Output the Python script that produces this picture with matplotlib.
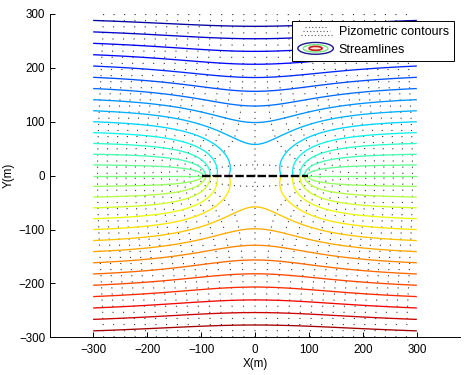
import numpy as np
import matplotlib
matplotlib.use("Agg")
import matplotlib.pyplot as plt
from matplotlib.legend_handler import HandlerBase
from matplotlib.patches import Ellipse
from matplotlib.lines import Line2D

# ---------------- data ----------------
SEMI_A = 100.0               # conductive inclusion semi-axis along flow (m)
SEMI_B = 20.0                # conductive inclusion semi-axis across flow (m)
DOMAIN = 300.0               # half-width of the modelled square (m)
N_LEVELS = 29                # number of contour levels (each family)
FRACTURE_X = [-98, 98]
FRACTURE_Y = [0, 0]
X_TICKS = [-300, -200, -100, 0, 100, 200, 300]
Y_TICKS = [-300, -200, -100, 0, 100, 200, 300]
LEGEND_LABELS = ["Pizometric contours", "Streamlines"]
X_LABEL = "X(m)"
Y_LABEL = "Y(m)"

plt.rcParams["font.family"] = ["Liberation Sans", "DejaVu Sans"]

# ------- flow net: uniform flow past a highly conductive elongated inclusion -------
m = (SEMI_A + SEMI_B) / 2.0
n = (SEMI_A - SEMI_B) / 2.0
c = 2.0 * np.sqrt(m * n)                      # focal half-length

x = np.linspace(-DOMAIN, DOMAIN, 600)
y_up = np.linspace(0.0, DOMAIN, 301)
X, Yu = np.meshgrid(x, y_up)
Z = X + 1j * Yu
zeta = (Z + np.sqrt(Z - c) * np.sqrt(Z + c)) / (2.0 * m)
W = m * (zeta - 1.0 / zeta)
PHI_up = W.real
PSI_up = W.imag.copy()
PSI_up[0, np.abs(x) >= c] = 0.0
Yl = -Yu
PHI_lo = PHI_up
PSI_lo = -PSI_up

phi_max = np.abs(PHI_up).max()
psi_max = np.abs(PSI_up).max()
phi_levels = np.linspace(-phi_max, phi_max, N_LEVELS + 2)[1:-1]
psi_levels = np.linspace(-psi_max, psi_max, N_LEVELS + 2)[1:-1]

# ---------------- figure ----------------
fig = plt.figure(figsize=(4.74, 3.75), dpi=100)
ax = fig.add_axes([50 / 474, 1 - 337.3 / 375, 410 / 474, 323.3 / 375])

dot_style = [(0, (1.0, 4.5))]
for YY, PP in ((Yu, PHI_up), (Yl, PHI_lo)):
    ax.contour(X, YY, PP, levels=phi_levels, colors=[(0.2, 0.2, 0.2)],
               linewidths=0.8, linestyles=dot_style)

ax.contour(X, Yu, PSI_up, levels=psi_levels[psi_levels > -1e-9], cmap="jet_r",
           vmin=-psi_max, vmax=psi_max, linewidths=0.95)
ax.contour(X, Yl, PSI_lo, levels=psi_levels[psi_levels < 1e-9], cmap="jet_r",
           vmin=-psi_max, vmax=psi_max, linewidths=0.95)

ax.plot(FRACTURE_X, FRACTURE_Y, color="k", lw=1.7,
        linestyle=(0, (3.6, 1.1)), solid_capstyle="butt")

ax.set_xlim(-380, 380)
ax.set_ylim(-300, 300)
ax.set_xticks(X_TICKS)
ax.set_yticks(Y_TICKS)
ax.spines["top"].set_visible(False)
ax.spines["right"].set_visible(False)
for s in ("left", "bottom"):
    ax.spines[s].set_linewidth(0.7)
ax.tick_params(direction="in", length=3.5, width=0.7, labelsize=8.4)
ax.tick_params(axis="x", pad=4.5)
ax.tick_params(axis="y", pad=3.5)
ax.set_xlabel(X_LABEL, fontsize=8.4, labelpad=2)
ax.set_ylabel(Y_LABEL, fontsize=8.4, labelpad=3)


# ---------------- legend ----------------
class DotIcon(HandlerBase):
    def create_artists(self, legend, orig, xd, yd, w, h, fs, trans):
        arts = []
        rows = [0.05, 0.5, 0.95]
        for i, fr in enumerate(rows):
            y0 = -yd + fr * h
            x0 = -xd + (0.1 + 0.05 * i) * w
            ln = Line2D([x0, x0 + 0.85 * w - 0.1 * i * w], [y0, y0],
                        color=(0.35, 0.35, 0.35), lw=0.8,
                        linestyle=(0, (1.0, 2.0)), transform=trans)
            arts.append(ln)
        return arts


class StreamIcon(HandlerBase):
    def create_artists(self, legend, orig, xd, yd, w, h, fs, trans):
        cx = -xd + w / 2
        cy = -yd + h / 2
        e1 = Ellipse((cx, cy), w * 0.98, h * 1.35, fc="none",
                     ec=(0.1, 0.1, 0.55), lw=1.0, transform=trans)
        e2 = Ellipse((cx, cy), w * 0.68, h * 0.85, fc="none",
                     ec=(0.45, 0.9, 0.5), lw=1.0, transform=trans)
        e3 = Ellipse((cx, cy), w * 0.36, h * 0.45, fc=(0.98, 0.9, 0.85),
                     ec=(0.8, 0.1, 0.1), lw=1.2, transform=trans)
        return [e1, e2, e3]


h1 = object()
h2 = object()
leg = ax.legend([h1, h2], LEGEND_LABELS,
                handler_map={h1: DotIcon(), h2: StreamIcon()},
                loc="upper right", bbox_to_anchor=(0.985, 0.978),
                borderaxespad=0, fontsize=9, handlelength=2.9,
                handletextpad=0.4, labelspacing=0.45, borderpad=0.4,
                fancybox=False, framealpha=1, edgecolor="k")
leg.get_frame().set_linewidth(0.7)

fig.savefig("out.png", dpi=100)
